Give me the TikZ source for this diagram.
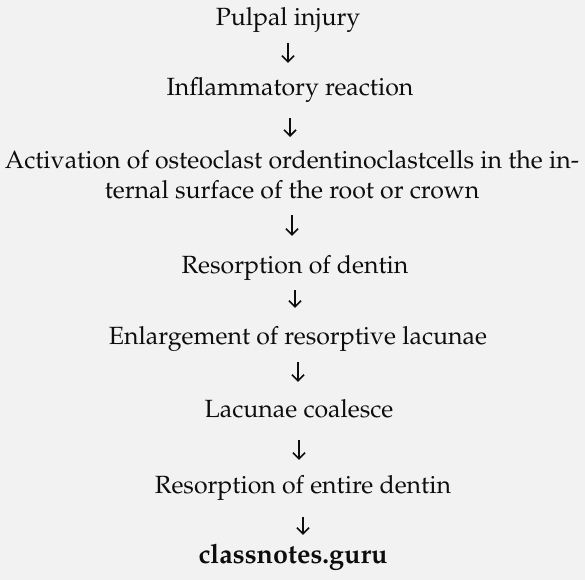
\documentclass[tikz,border=0pt]{standalone}
\usepackage[T1]{fontenc}
\usepackage{mathpazo}
\usetikzlibrary{arrows.meta}
\begin{document}
\begin{tikzpicture}[x=1bp,y=-1bp,
  lbl/.style={anchor=base,inner sep=0pt,text height=18bp,text depth=7bp,
    font=\fontsize{25}{30}\selectfont,text=black!95},
  multi/.style={anchor=north,inner sep=0pt,align=center,
    font=\fontsize{25}{30}\selectfont,text=black!95},
  arr/.style={-{Straight Barb[length=6bp,width=12bp,line width=1.6bp]},
    line width=1.6bp,draw=black!95}]
\fill[black!5] (0,0) rectangle (585,580);
\useasboundingbox (0,0) rectangle (585,580);
\node[lbl] (n1) at (288,26) {Pulpal injury};
\node[lbl] (n2) at (290,96) {Inflammatory reaction};
\node[multi] (n3) at (292,150) {Activation of osteoclast ordentinoclastcells in the in-\\ternal surface of the root or crown};
\node[lbl] (n4) at (295,273) {Resorption of dentin};
\node[lbl] (n5) at (298,344) {Enlargement of resorptive lacunae};
\node[lbl] (n6) at (299,417) {Lacunae coalesce};
\node[lbl] (n7) at (303,493) {Resorption of entire dentin};
\node[lbl,font=\fontsize{27}{30}\selectfont\bfseries] (n8) at (293,563) {classnotes.guru};
\draw[arr,shorten <=10bp,shorten >=15bp] (n1.south) -- (n1.south |- n2.north);
\draw[arr,shorten <=15bp,shorten >=13bp] (n2.south) -- (n2.south |- n3.north);
\draw[arr,shorten <=16bp,shorten >=19bp] (n3.south) -- (n3.south |- n4.north);
\draw[arr,shorten <=10bp,shorten >=18bp] (n4.south) -- (n4.south |- n5.north);
\draw[arr,shorten <=11bp,shorten >=17bp] (n5.south) -- (n5.south |- n6.north);
\draw[arr,shorten <=16bp,shorten >=15bp] (n6.south) -- (n6.south |- n7.north);
\draw[arr,shorten <=17bp,shorten >=10bp] (n7.south) -- (n7.south |- n8.north);
\end{tikzpicture}
\end{document}
